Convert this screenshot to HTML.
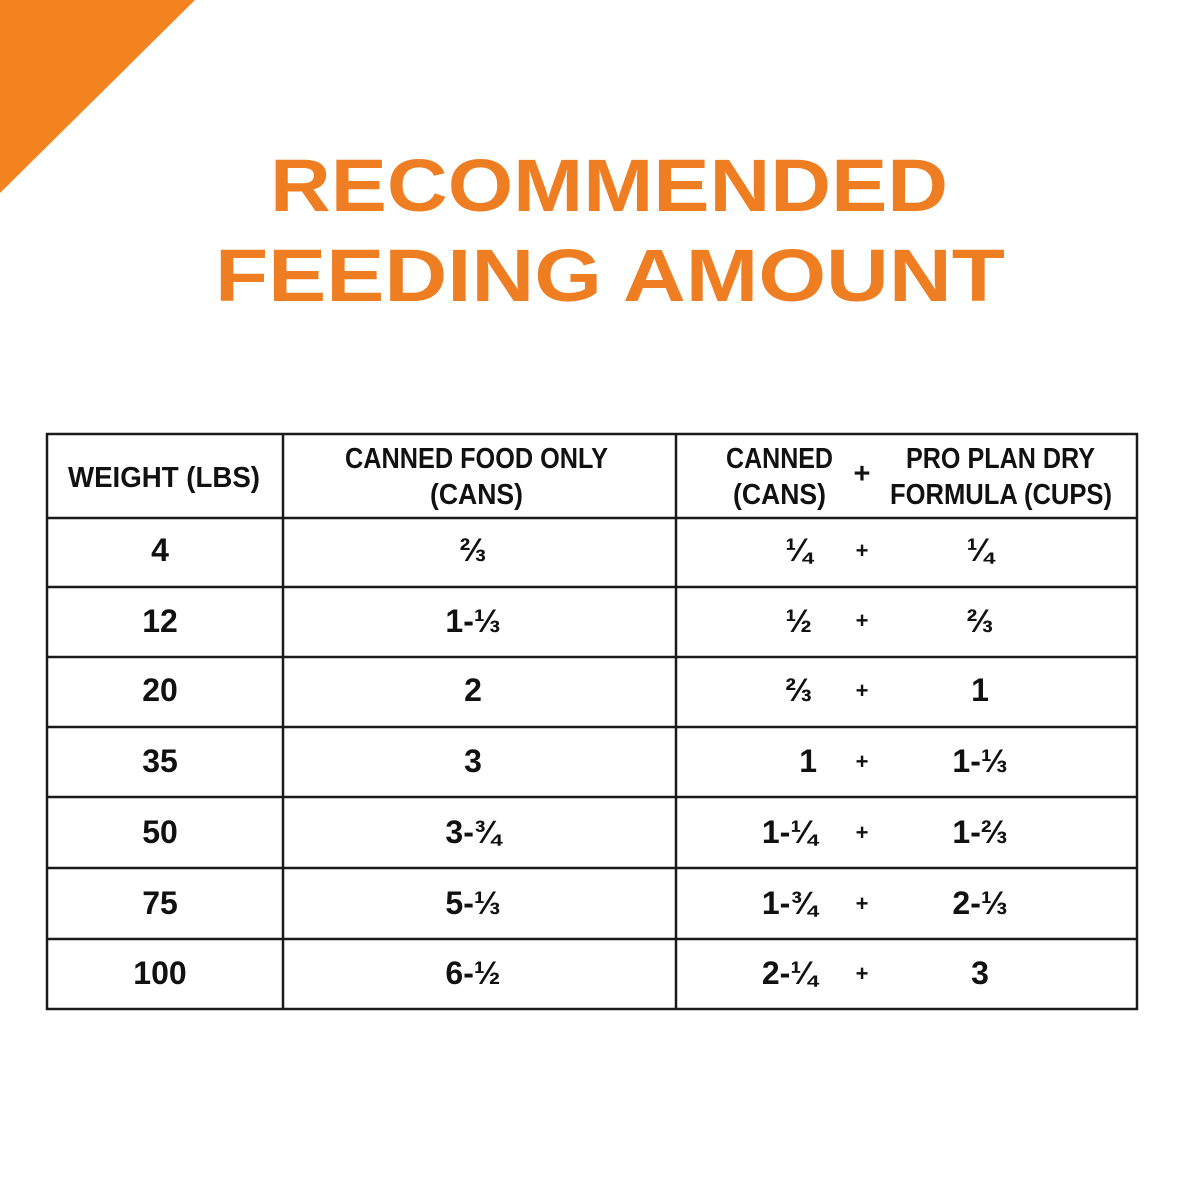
<!DOCTYPE html>
<html><head><meta charset="utf-8"><style>
html,body{margin:0;padding:0;background:#fff;}
svg{display:block;}
.t{font-family:"Liberation Sans",sans-serif;font-weight:bold;fill:#ef7d22;}
.h{font-family:"Liberation Sans","DejaVu Sans",sans-serif;font-weight:bold;fill:#111;font-size:29px;}
.v{font-family:"Liberation Sans","DejaVu Sans",sans-serif;font-weight:bold;fill:#111;font-size:32px;}
</style></head><body>
<svg width="1200" height="1200" viewBox="0 0 1200 1200" xmlns="http://www.w3.org/2000/svg">
<rect width="1200" height="1200" fill="#fff"/>
<polygon points="0,0 195,0 0,193" fill="#f3831f"/>
<text class="t" x="270" y="211" font-size="74" textLength="678" lengthAdjust="spacingAndGlyphs">RECOMMENDED</text>
<text class="t" x="215" y="301" font-size="74" textLength="790" lengthAdjust="spacingAndGlyphs">FEEDING AMOUNT</text>
<g stroke="#1a1a1a" stroke-width="2.5" fill="none">
<rect x="47" y="434" width="1090" height="575"/>
<line x1="283" y1="434" x2="283" y2="1009"/>
<line x1="676" y1="434" x2="676" y2="1009"/>
<line x1="47" y1="518" x2="1137" y2="518"/>
<line x1="47" y1="587" x2="1137" y2="587"/>
<line x1="47" y1="657" x2="1137" y2="657"/>
<line x1="47" y1="727" x2="1137" y2="727"/>
<line x1="47" y1="797" x2="1137" y2="797"/>
<line x1="47" y1="868" x2="1137" y2="868"/>
<line x1="47" y1="939" x2="1137" y2="939"/>
</g>
<text class="h" x="68" y="487" textLength="192" lengthAdjust="spacingAndGlyphs">WEIGHT (LBS)</text>
<text class="h" x="345" y="468" textLength="263" lengthAdjust="spacingAndGlyphs">CANNED FOOD ONLY</text>
<text class="h" x="430" y="504" textLength="93" lengthAdjust="spacingAndGlyphs">(CANS)</text>
<text class="h" x="726" y="468" textLength="107" lengthAdjust="spacingAndGlyphs">CANNED</text>
<text class="h" x="733" y="504" textLength="93" lengthAdjust="spacingAndGlyphs">(CANS)</text>
<text class="h" x="862" y="483" text-anchor="middle" font-size="19">+</text>
<text class="h" x="906" y="468" textLength="189" lengthAdjust="spacingAndGlyphs">PRO PLAN DRY</text>
<text class="h" x="890" y="504" textLength="222" lengthAdjust="spacingAndGlyphs">FORMULA (CUPS)</text>
<g class="v">
<g text-anchor="middle">
<text x="160" y="561">4</text><text x="160" y="632">12</text><text x="160" y="701">20</text><text x="160" y="772">35</text><text x="160" y="843">50</text><text x="160" y="914">75</text><text x="160" y="984">100</text>
<text x="473" y="561">⅔</text><text x="473" y="632">1-⅓</text><text x="473" y="701">2</text><text x="473" y="772">3</text><text x="473" y="843">3-¾</text><text x="473" y="914">5-⅓</text><text x="473" y="984">6-½</text>
<text x="980" y="561">¼</text><text x="980" y="632">⅔</text><text x="980" y="701">1</text><text x="980" y="772">1-⅓</text><text x="980" y="843">1-⅔</text><text x="980" y="914">2-⅓</text><text x="980" y="984">3</text>
<g font-size="22"><text x="862" y="558">+</text><text x="862" y="628">+</text><text x="862" y="698">+</text><text x="862" y="769">+</text><text x="862" y="840">+</text><text x="862" y="911">+</text><text x="862" y="981">+</text></g>
</g>
<g text-anchor="end">
<text x="812" y="561">¼</text><text x="812" y="632">½</text><text x="812" y="701">⅔</text><text x="817" y="772">1</text><text x="817" y="843">1-¼</text><text x="817" y="914">1-¾</text><text x="817" y="984">2-¼</text>
</g>
</g>
</svg>
</body></html>
